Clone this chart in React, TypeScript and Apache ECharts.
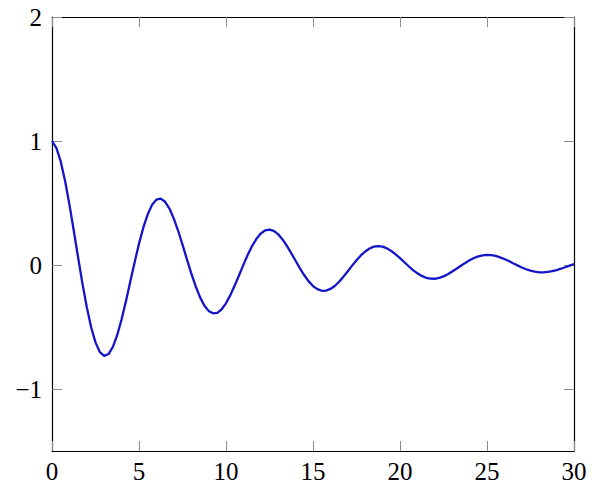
import React, { useEffect, useRef } from "react";
import * as echarts from "echarts";

const xValues: number[] = [
  0, 0.25, 0.5, 0.75, 1, 1.25, 1.5, 1.75, 2, 2.25, 2.5, 2.75, 3, 3.25, 3.5, 3.75,
  4, 4.25, 4.5, 4.75, 5, 5.25, 5.5, 5.75, 6, 6.25, 6.5, 6.75, 7, 7.25, 7.5, 7.75,
  8, 8.25, 8.5, 8.75, 9, 9.25, 9.5, 9.75, 10, 10.25, 10.5, 10.75, 11, 11.25, 11.5, 11.75,
  12, 12.25, 12.5, 12.75, 13, 13.25, 13.5, 13.75, 14, 14.25, 14.5, 14.75, 15, 15.25, 15.5, 15.75,
  16, 16.25, 16.5, 16.75, 17, 17.25, 17.5, 17.75, 18, 18.25, 18.5, 18.75, 19, 19.25, 19.5, 19.75,
  20, 20.25, 20.5, 20.75, 21, 21.25, 21.5, 21.75, 22, 22.25, 22.5, 22.75, 23, 23.25, 23.5, 23.75,
  24, 24.25, 24.5, 24.75, 25, 25.25, 25.5, 25.75, 26, 26.25, 26.5, 26.75, 27, 27.25, 27.5, 27.75,
  28, 28.25, 28.5, 28.75, 29, 29.25, 29.5, 29.75, 30,
];
const yValues: number[] = [
  1.0, 0.945, 0.835, 0.679, 0.489, 0.278, 0.061, -0.15, -0.341, -0.502, -0.624, -0.702, -0.733, -0.718, -0.66, -0.564,
  -0.438, -0.292, -0.134, 0.023, 0.172, 0.303, 0.409, 0.485, 0.527, 0.535, 0.51, 0.455, 0.374, 0.276, 0.164, 0.048,
  -0.065, -0.169, -0.257, -0.326, -0.37, -0.39, -0.386, -0.357, -0.309, -0.243, -0.166, -0.083, 0.001, 0.082, 0.153, 0.211,
  0.254, 0.279, 0.286, 0.275, 0.247, 0.206, 0.154, 0.095, 0.034, -0.027, -0.083, -0.132, -0.17, -0.195, -0.208, -0.207,
  -0.193, -0.169, -0.135, -0.094, -0.05, -0.005, 0.038, 0.077, 0.109, 0.133, 0.148, 0.153, 0.148, 0.134, 0.113, 0.086,
  0.055, 0.022, -0.01, -0.041, -0.067, -0.088, -0.103, -0.11, -0.111, -0.104, -0.092, -0.075, -0.053, -0.03, -0.006, 0.017,
  0.038, 0.056, 0.07, 0.078, 0.081, 0.08, 0.073, 0.062, 0.048, 0.032, 0.014, -0.003, -0.02, -0.034, -0.046, -0.054,
  -0.059, -0.059, -0.056, -0.05, -0.041, -0.03, -0.018, -0.005, 0.008,
];
const yTicks: number[] = [-1, 0, 1, 2];

const fmt = (v: number) => String(v).replace("-", "\u2212");
const fmtY = (v: number) => (yTicks.indexOf(v) >= 0 ? fmt(v) : "");

export default function App() {
  const ref = useRef<HTMLDivElement>(null);
  useEffect(() => {
    if (!ref.current) return;
    const chart = echarts.init(ref.current, null, { renderer: "svg" });
    const font = {
      fontFamily: "Liberation Serif",
      fontSize: 25,
      color: "#000",
    };
    const lineStyle = { color: "#000", width: 1.2 };
    const tickStyle = { color: "#8a8a8a", width: 1 };
    chart.setOption({
      animation: false,
      backgroundColor: "#fff",
      grid: { left: 52, top: 17, right: 23, bottom: 36, containLabel: false },
      xAxis: [
        {
          type: "value",
          min: 0,
          max: 30,
          interval: 5,
          position: "bottom",
          splitLine: { show: false },
          axisLine: { show: true, onZero: false, lineStyle },
          axisTick: { show: true, inside: true, length: 10, lineStyle: tickStyle },
          axisLabel: { ...font, margin: 8, formatter: fmt },
        },
        {
          type: "value",
          min: 0,
          max: 30,
          interval: 5,
          position: "top",
          splitLine: { show: false },
          axisLine: { show: true, onZero: false, lineStyle },
          axisTick: { show: true, inside: true, length: 10, lineStyle: tickStyle },
          axisLabel: { show: false },
        },
      ],
      yAxis: [
        {
          type: "value",
          min: -1.5,
          max: 2,
          interval: 0.5,
          position: "left",
          splitLine: { show: false },
          axisLine: { show: true, onZero: false, lineStyle },
          axisTick: { show: true, inside: true, length: 10, lineStyle: tickStyle, customValues: yTicks },
          axisLabel: { ...font, margin: 10, formatter: fmtY },
        },
        {
          type: "value",
          min: -1.5,
          max: 2,
          interval: 0.5,
          position: "right",
          splitLine: { show: false },
          axisLine: { show: true, onZero: false, lineStyle },
          axisTick: { show: true, inside: true, length: 10, lineStyle: tickStyle, customValues: yTicks },
          axisLabel: { show: false },
        },
      ],
      series: [
        {
          type: "line",
          xAxisIndex: 0,
          yAxisIndex: 0,
          data: xValues.map((x, i) => [x, yValues[i]]),
          smooth: false,
          showSymbol: false,
          symbol: "none",
          lineStyle: { color: "#1414c8", width: 2.3, join: "round" },
        },
      ],
    });
    return () => chart.dispose();
  }, []);
  return (
    <div
      ref={ref}
      style={{ position: "fixed", left: 0, top: 0, width: 597, height: 487, background: "#fff" }}
    />
  );
}
